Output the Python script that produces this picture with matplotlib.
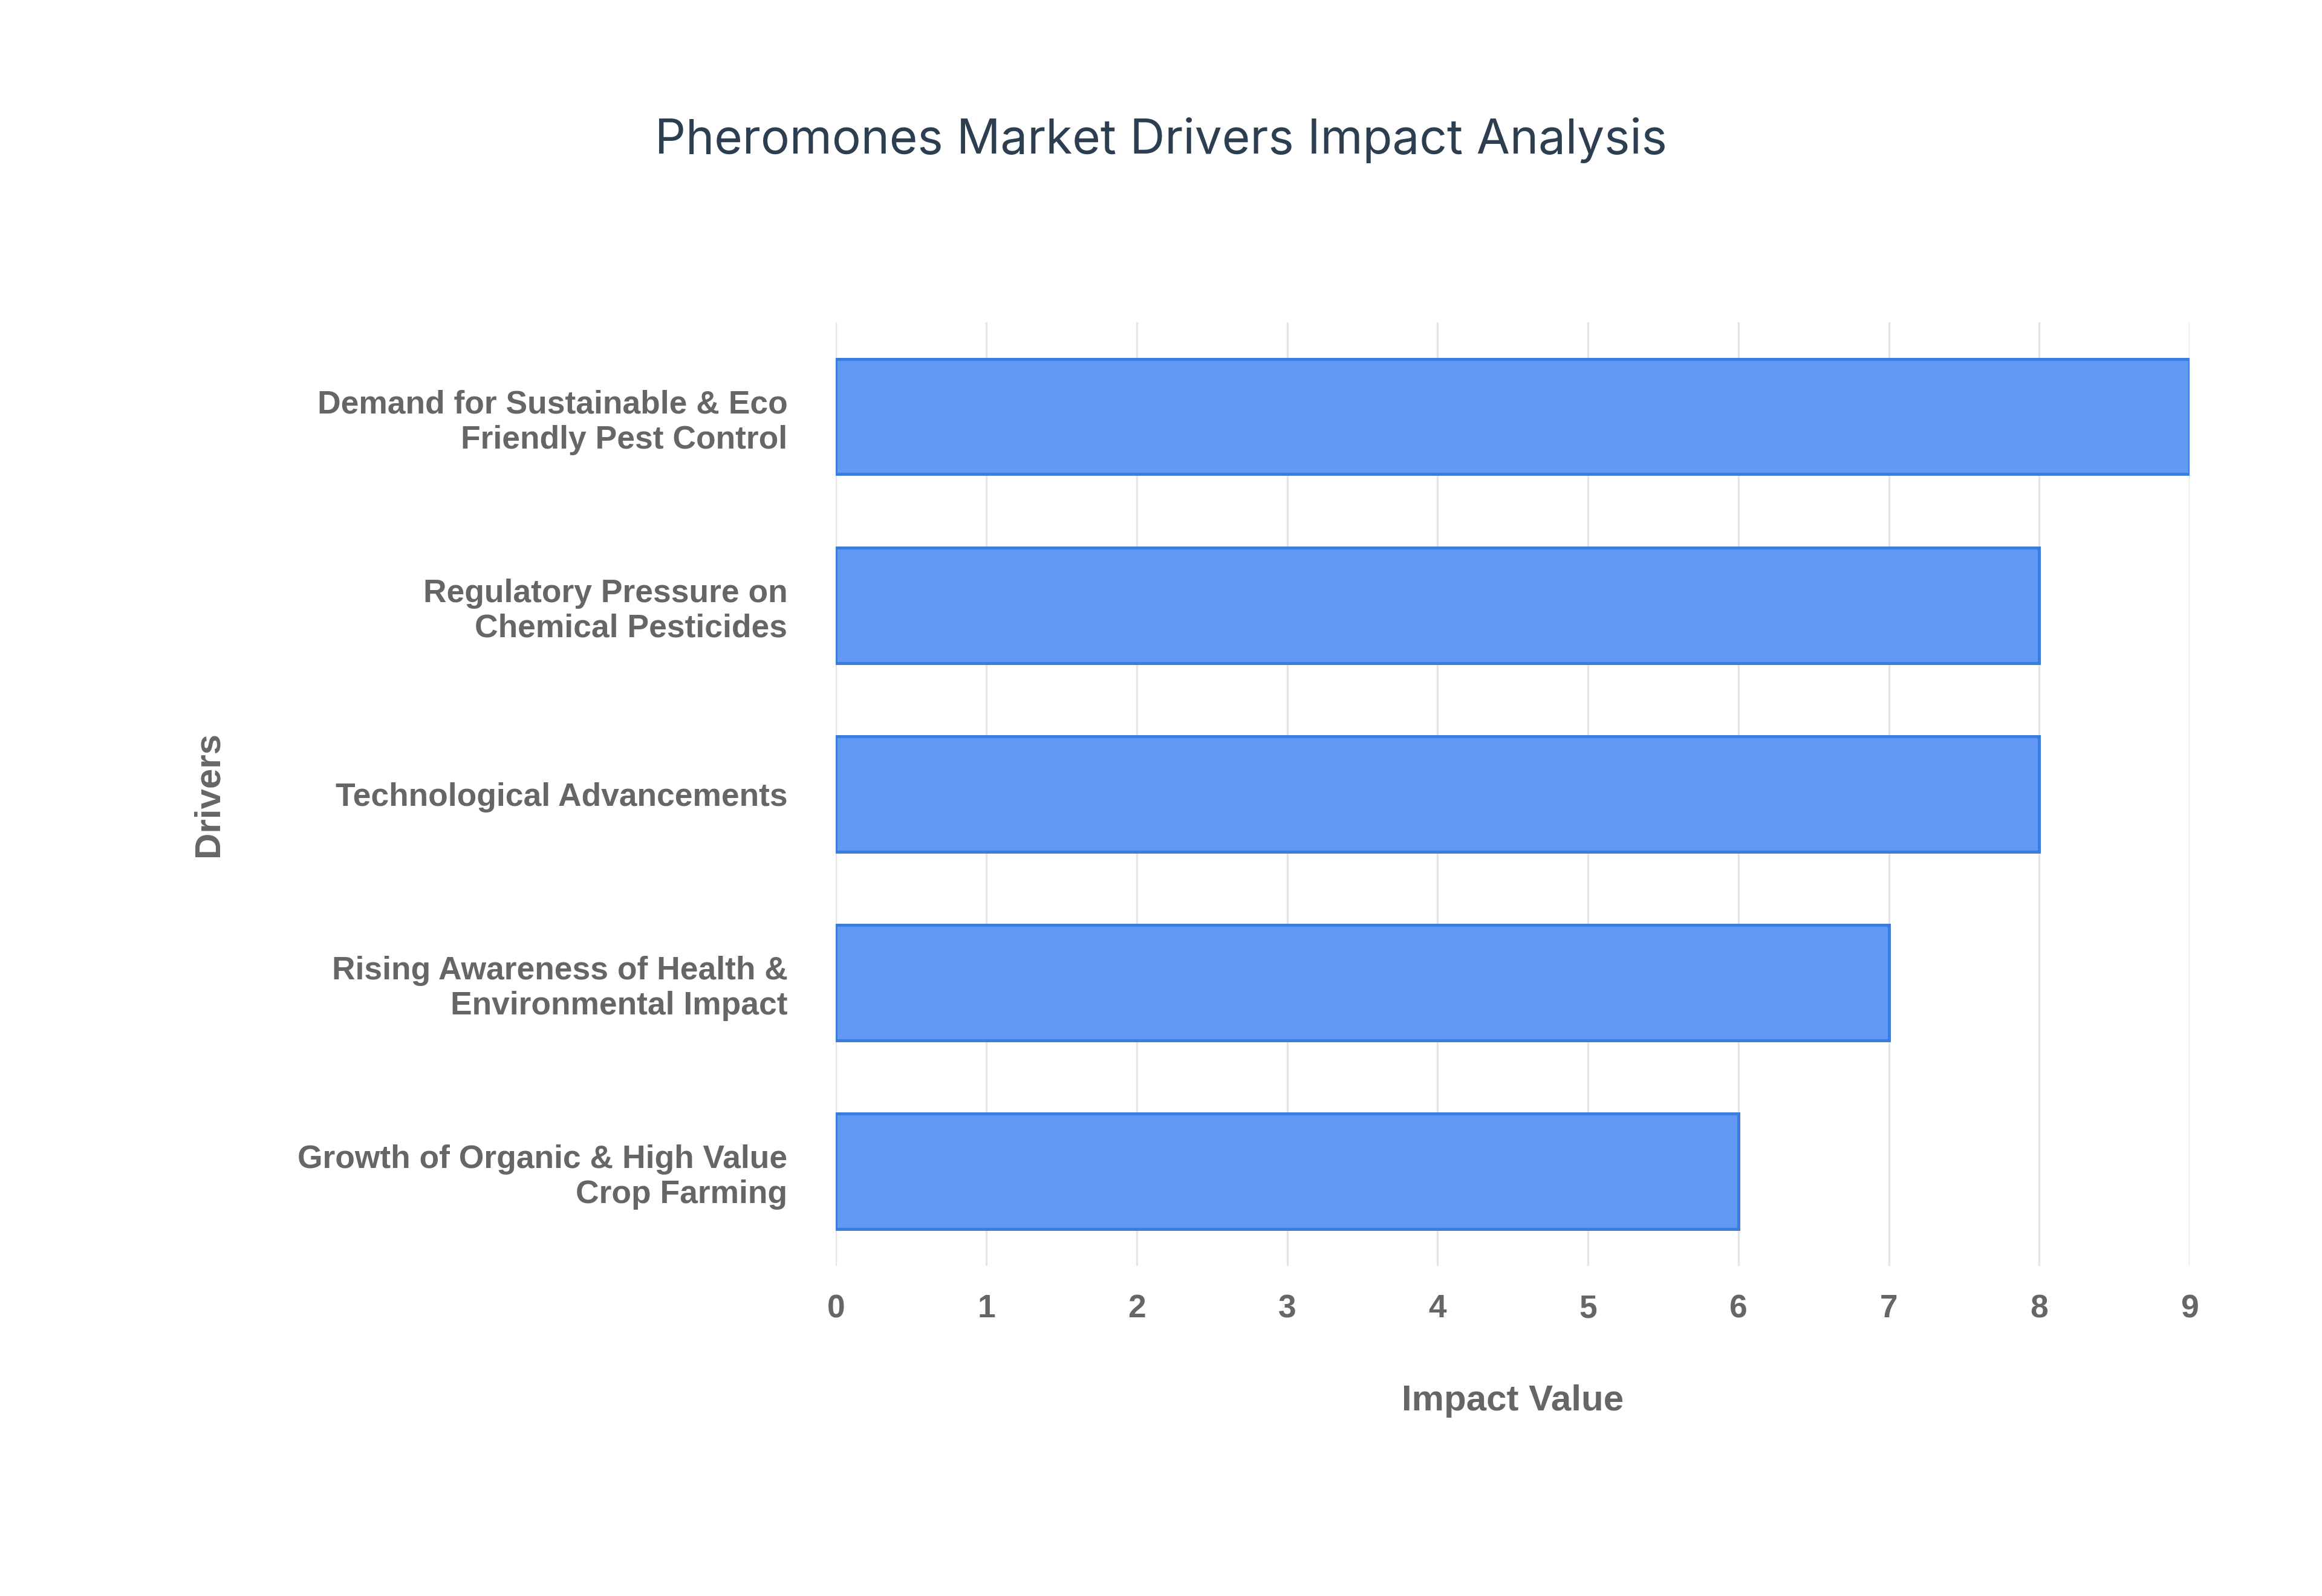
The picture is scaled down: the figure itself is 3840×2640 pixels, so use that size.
import matplotlib
matplotlib.use("Agg")
import matplotlib.pyplot as plt

drivers = ["Demand for Sustainable & Eco\nFriendly Pest Control",
           "Regulatory Pressure on\nChemical Pesticides",
           "Technological Advancements",
           "Rising Awareness of Health &\nEnvironmental Impact",
           "Growth of Organic & High Value\nCrop Farming"]
impact = [9, 8, 8, 7, 6]

fig = plt.figure(figsize=(16, 11), dpi=240)
ax = fig.add_axes([0.36, 0.207, 0.583, 0.591])
y = list(range(len(drivers)))[::-1]
ax.barh(y, impact, height=0.61, color="#6199F5", edgecolor="#3B7DDD", linewidth=1.5, zorder=3)
ax.set_xlim(0, 9)
ax.set_ylim(-0.5, 4.5)
ax.set_yticks(y)
ax.set_yticklabels(drivers, fontsize=16, fontweight="bold", color="#666666", family="Liberation Sans")
ax.set_xticks(range(10))
ax.set_xticklabels([str(i) for i in range(10)], fontsize=16, fontweight="bold", color="#666666", family="Liberation Sans")
ax.tick_params(axis="y", length=0, pad=24)
ax.tick_params(axis="x", length=0, pad=14)
ax.grid(axis="x", color="#e6e6e6", linewidth=1, zorder=0)
for s in ax.spines.values():
    s.set_visible(False)
ax.set_xlabel("Impact Value", fontsize=18, fontweight="bold", color="#666666", family="Liberation Sans", labelpad=30)
ax.set_ylabel("Drivers", fontsize=18, fontweight="bold", color="#666666", family="Liberation Sans", labelpad=36)
fig.text(0.5, 0.912, "Pheromones Market Drivers Impact Analysis", ha="center", va="center",
         fontsize=24, color="#2c3e50", family="Inter")
fig.savefig("out.png", dpi=240)
